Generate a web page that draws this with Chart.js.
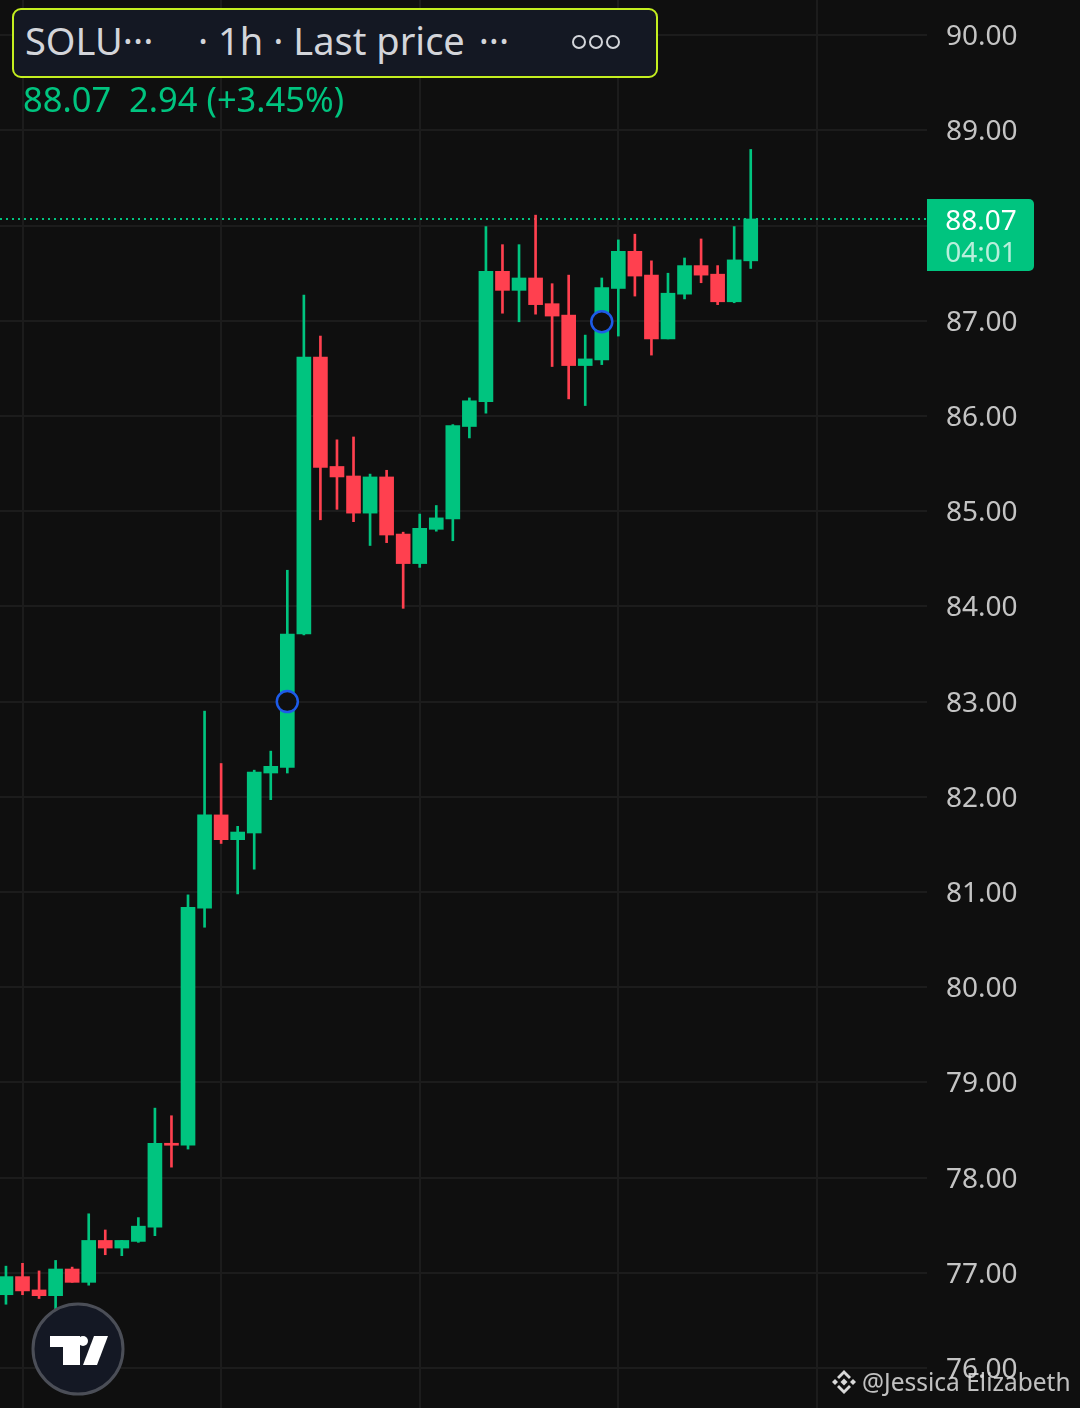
<!DOCTYPE html>
<html lang="en">
<head>
    <meta charset="UTF-8">
    <title>SOLU 1h - Last price</title>
    <script src="https://cdn.jsdelivr.net/npm/chart.js"></script>
    <style>
        html, body { margin: 0; padding: 0; background: #0f0f0f; }
        .wrap { position: relative; width: 1080px; height: 1408px; overflow: hidden; font-family: "Noto Sans", sans-serif; }
        #grafico { position: absolute; left: 0; top: 0; }
        .legenda { position: absolute; left: 12px; top: 8px; width: 646px; height: 70px; box-sizing: border-box;
                   background: #141823; border: 2px solid #c4ef1f; border-radius: 9px; color: #d3d5da; }
        .legenda span { position: absolute; top: 11px; font-size: 38px; line-height: 1; white-space: nowrap; }
        .pontos { position: absolute; left: 558px; top: 22px; }
        .pontos i { display: inline-block; width: 10px; height: 10px; border: 2.5px solid #d3d5da; border-radius: 50%; margin-right: 3px; }
        .variacao { position: absolute; left: 23px; top: 82px; font-size: 34.5px; line-height: 1; color: #00c47f; white-space: pre; }
        .marca { position: absolute; left: 830px; top: 1368px; }
        .autor { position: absolute; left: 862px; top: 1370px; font-size: 24.5px; line-height: 1; color: rgba(225,225,225,0.85); white-space: nowrap; }
        .logo { position: absolute; left: 28px; top: 1300px; }
    </style>
</head>
<body>
<div class="wrap">
    <canvas id="grafico" width="1080" height="1408"></canvas>

    <div class="legenda">
        <span style="left: 11px;">SOLU···</span>
        <span style="left: 184px;">· 1h · Last price <span style="position: static; margin-left: 4px;">···</span></span>
        <div class="pontos"><i></i><i></i><i></i></div>
    </div>
    <div class="variacao">88.07  2.94 (+3.45%)</div>

    <svg class="logo" width="100" height="100" viewBox="0 0 100 100">
        <circle cx="50" cy="49" r="45" fill="#141824" stroke="#4b4e57" stroke-width="3"/>
        <polygon points="22,36 52,36 52,65 35,65 35,47 22,47" fill="#ffffff"/>
        <circle cx="55" cy="41" r="5" fill="#ffffff"/>
        <polygon points="66,36 80,36 69,65 55,65" fill="#ffffff"/>
    </svg>

    <svg class="marca" width="28" height="28" viewBox="0 0 28 28" fill="#d8d8d8">
        <path d="M14 2 L21 9 L19 11 L14 6 L9 11 L7 9 Z"/>
        <path d="M14 26 L21 19 L19 17 L14 22 L9 17 L7 19 Z"/>
        <polygon points="14,10.5 17.5,14 14,17.5 10.5,14"/>
        <polygon points="2,14 5,11 8,14 5,17"/>
        <polygon points="20,14 23,11 26,14 23,17"/>
    </svg>
    <div class="autor">@Jessica Elizabeth</div>
</div>

<script>
    // Velas de 1h (índice = posição da vela)
    const abertura = [76.77, 76.96, 76.82, 76.76, 77.04, 76.90, 77.34, 77.26, 77.33, 77.48,
                      78.36, 78.34, 80.83, 81.81, 81.55, 81.62, 82.25, 82.31, 83.71, 86.62,
                      85.47, 85.37, 84.98, 85.36, 84.76, 84.45, 84.81, 84.92, 85.89, 86.15,
                      87.52, 87.32, 87.45, 87.18, 87.06, 86.53, 86.59, 87.34, 87.73, 87.48,
                      86.81, 87.28, 87.58, 87.49, 87.20, 87.63];
    const maxima   = [77.07, 77.10, 77.02, 77.13, 77.06, 77.62, 77.45, 77.34, 77.58, 78.73,
                      78.65, 80.97, 82.90, 82.35, 81.69, 82.28, 82.48, 84.38, 87.27, 86.84,
                      85.75, 85.78, 85.39, 85.43, 84.78, 84.97, 85.06, 85.91, 86.19, 87.99,
                      87.80, 87.80, 88.11, 87.39, 87.48, 86.85, 87.45, 87.85, 87.91, 87.63,
                      87.50, 87.66, 87.86, 87.58, 87.99, 88.80];
    const minima   = [76.67, 76.77, 76.73, 76.59, 76.90, 76.87, 77.19, 77.18, 77.32, 77.39,
                      78.11, 78.30, 80.63, 81.51, 80.98, 81.24, 81.97, 82.25, 83.70, 84.91,
                      85.02, 84.89, 84.64, 84.67, 83.98, 84.41, 84.79, 84.69, 85.77, 86.03,
                      87.08, 86.99, 87.07, 86.52, 86.18, 86.11, 86.54, 86.84, 87.26, 86.64,
                      86.81, 87.23, 87.40, 87.17, 87.19, 87.55];
    const fechamento = [76.96, 76.81, 76.76, 77.04, 76.90, 77.34, 77.26, 77.34, 77.49, 78.36,
                      78.34, 80.84, 81.81, 81.55, 81.63, 82.26, 82.32, 83.71, 86.62, 85.46,
                      85.36, 84.98, 85.36, 84.75, 84.45, 84.82, 84.93, 85.90, 86.16, 87.52,
                      87.32, 87.45, 87.17, 87.05, 86.53, 86.60, 87.35, 87.73, 87.47, 86.81,
                      87.29, 87.58, 87.48, 87.20, 87.64, 88.07];

    // Marcadores (círculos azuis)
    const marcadoresX = [17, 36];
    const marcadoresY = [83.00, 86.99];

    // Eixos
    const precoMin = 75.58, precoMax = 90.37;
    const velaMin = -0.36, velaMax = 55.65;
    const gradeVertical = [1, 13, 25, 37, 49];
    const ultimoPreco = 88.07;
    const tempoRestante = '04:01';

    const VERDE = '#00c47f';
    const VERMELHO = '#ff404f';

    document.addEventListener("DOMContentLoaded", function () {
        const cores = abertura.map((o, i) => fechamento[i] >= o ? VERDE : VERMELHO);

        const rotuloPreco = {
            id: 'rotuloPreco',
            afterDraw(chart) {
                const { ctx, chartArea, scales } = chart;
                const py = scales.y.getPixelForValue(ultimoPreco);
                const x0 = chartArea.right, w = 107, top = py - 20, h = 72, r = 5;
                ctx.save();
                ctx.fillStyle = VERDE;
                ctx.beginPath();
                ctx.moveTo(x0, top);
                ctx.lineTo(x0 + w - r, top);
                ctx.arcTo(x0 + w, top, x0 + w, top + r, r);
                ctx.lineTo(x0 + w, top + h - r);
                ctx.arcTo(x0 + w, top + h, x0 + w - r, top + h, r);
                ctx.lineTo(x0, top + h);
                ctx.closePath();
                ctx.fill();
                ctx.textAlign = 'center';
                ctx.textBaseline = 'middle';
                ctx.font = '28px "Noto Sans"';
                ctx.fillStyle = '#ffffff';
                ctx.fillText(ultimoPreco.toFixed(2), x0 + 54, py + 3);
                ctx.fillStyle = 'rgba(255,255,255,0.72)';
                ctx.fillText(tempoRestante, x0 + 54, py + 35);
                ctx.restore();
            }
        };

        new Chart(document.getElementById('grafico'), {
            type: 'bar',
            data: {
                datasets: [
                    {
                        type: 'scatter',
                        data: marcadoresX.map((x, i) => ({ x: x, y: marcadoresY[i] })),
                        pointRadius: 10.5,
                        pointBorderWidth: 2.5,
                        pointBorderColor: '#1d5be8',
                        pointBackgroundColor: '#0f0f0f',
                        order: 0
                    },
                    {
                        data: abertura.map((o, i) => ({ x: i, y: [o, fechamento[i]] })),
                        backgroundColor: cores,
                        barThickness: 14,
                        minBarLength: 2,
                        grouped: false,
                        order: 1
                    },
                    {
                        data: minima.map((l, i) => ({ x: i, y: [l, maxima[i]] })),
                        backgroundColor: cores,
                        barThickness: 2,
                        grouped: false,
                        order: 2
                    },
                    {
                        type: 'line',
                        data: [{ x: velaMin, y: ultimoPreco }, { x: velaMax, y: ultimoPreco }],
                        borderColor: VERDE,
                        borderWidth: 2,
                        borderDash: [2, 4],
                        pointRadius: 0,
                        order: 3
                    }
                ]
            },
            options: {
                responsive: false,
                animation: false,
                layout: { padding: 0, autoPadding: false },
                plugins: { legend: { display: false }, tooltip: { enabled: false } },
                scales: {
                    x: {
                        type: 'linear',
                        min: velaMin,
                        max: velaMax,
                        offset: false,
                        ticks: { display: false },
                        border: { display: false },
                        grid: { color: '#1c1c1c', lineWidth: 2, drawTicks: false, offset: false },
                        afterBuildTicks: s => { s.ticks = gradeVertical.map(v => ({ value: v })); },
                        afterFit: s => { s.height = 0; s.paddingLeft = 0; s.paddingRight = 0; }
                    },
                    y: {
                        position: 'right',
                        min: precoMin,
                        max: precoMax,
                        ticks: {
                            stepSize: 1,
                            includeBounds: false,
                            padding: 19,
                            labelOffset: 2,
                            color: '#c4c4c4',
                            font: { family: 'Noto Sans', size: 28 },
                            callback: v => Number(v).toFixed(2)
                        },
                        border: { display: false },
                        grid: { color: '#1c1c1c', lineWidth: 2, drawTicks: false },
                        afterFit: s => { s.width = 153; s.paddingTop = 0; s.paddingBottom = 0; }
                    }
                }
            },
            plugins: [rotuloPreco]
        });
    });
</script>
</body>
</html>
